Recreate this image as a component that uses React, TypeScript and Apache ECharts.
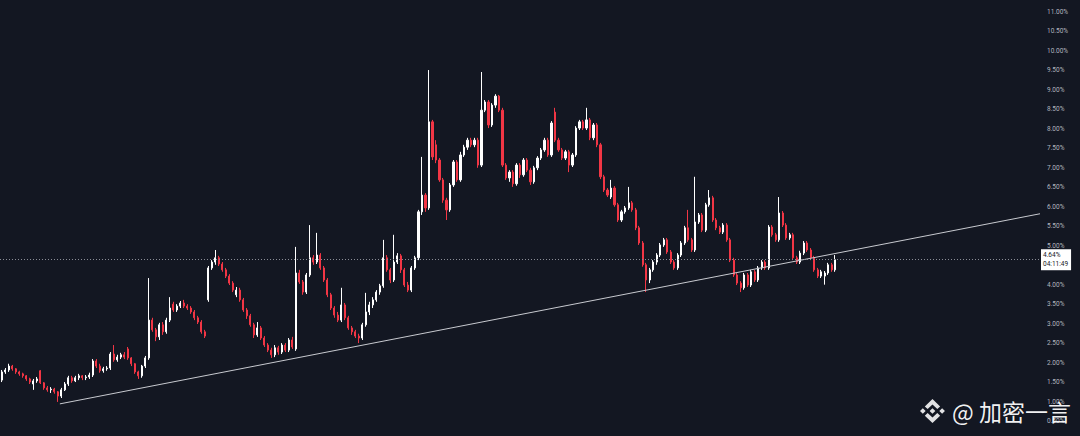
import React, { useEffect, useRef } from "react";
import * as echarts from "echarts";

// y-axis (percent) range and tick step
const yMin = 0.5;
const yMax = 11;
const yStep = 0.5;

// number of category slots on the time axis (data + empty space to the right)
const slotCount = 297;

// last price annotation
const lastPrice = 4.64;
const lastPriceTime = "04:11:49";

// trend line anchor points: [slot position, value %]
const trendStart = [17.1, 0.94];
const trendEnd = [297, 5.82];

// candles: [open, close, low, high] in percent
const candles = [
  [1.55,1.76,1.50,1.81],[1.76,1.81,1.71,1.86],[1.81,1.91,1.76,1.97],[1.91,1.84,1.79,1.94],
  [1.84,1.76,1.71,1.86],[1.76,1.71,1.66,1.79],[1.71,1.66,1.61,1.74],[1.66,1.58,1.53,1.68],
  [1.58,1.50,1.45,1.61],[1.45,1.53,1.30,1.58],[1.53,1.58,1.48,1.63],[1.79,1.48,1.45,1.81],
  [1.48,1.35,1.30,1.50],[1.35,1.30,1.25,1.40],[1.30,1.32,1.22,1.37],[1.32,1.25,1.20,1.35],
  [1.25,1.14,0.99,1.27],[1.14,1.30,1.09,1.35],[1.30,1.45,1.27,1.50],[1.45,1.61,1.40,1.66],
  [1.61,1.53,1.48,1.66],[1.53,1.61,1.50,1.66],[1.61,1.66,1.55,1.71],[1.66,1.61,1.55,1.68],
  [1.61,1.63,1.55,1.68],[1.63,1.68,1.58,1.74],[1.68,2.04,1.63,2.09],[2.04,1.91,1.86,2.09],
  [1.91,1.79,1.74,1.97],[1.79,1.84,1.74,1.89],[1.84,1.86,1.79,1.91],[1.86,2.22,1.81,2.27],
  [2.22,2.07,2.02,2.45],[2.07,2.14,2.02,2.20],[2.14,2.20,2.09,2.25],[2.20,2.14,2.09,2.27],
  [2.35,2.12,2.07,2.40],[2.12,1.97,1.91,2.14],[1.97,1.76,1.71,1.99],[1.76,1.66,1.58,1.79],
  [1.66,1.91,1.61,1.94],[1.91,2.12,1.86,2.17],[2.12,3.09,2.07,4.17],[3.09,2.84,2.79,3.15],
  [2.84,2.66,2.55,2.89],[2.66,2.97,2.58,3.02],[2.97,2.79,2.71,3.04],[2.79,3.09,2.74,3.15],
  [3.09,3.40,3.04,3.68],[3.50,3.35,3.30,3.56],[3.35,3.45,3.30,3.50],[3.45,3.53,3.40,3.58],
  [3.53,3.45,3.40,3.61],[3.45,3.40,3.35,3.50],[3.40,3.30,3.25,3.45],[3.30,3.15,3.09,3.35],
  [3.15,3.04,2.99,3.20],[3.04,2.79,2.74,3.09],[2.79,2.68,2.63,2.84],[3.61,4.43,3.56,4.48],
  [4.43,4.58,4.38,4.63],[4.58,4.69,4.51,4.89],[4.69,4.53,4.48,4.74],[4.53,4.38,4.33,4.58],
  [4.38,4.22,4.17,4.43],[4.22,4.04,3.99,4.27],[4.04,3.86,3.81,4.09],[3.74,3.86,3.68,3.94],
  [3.86,3.61,3.56,3.92],[3.61,3.35,3.30,3.66],[3.35,3.20,3.12,3.40],[3.20,2.97,2.92,3.25],
  [2.97,2.71,2.63,3.02],[2.71,2.89,2.66,3.04],[2.89,2.63,2.58,2.94],[2.63,2.45,2.40,2.68],
  [2.45,2.32,2.27,2.50],[2.32,2.20,2.12,2.38],[2.20,2.38,2.14,2.45],[2.38,2.27,2.20,2.43],
  [2.27,2.45,2.22,2.50],[2.45,2.32,2.27,2.50],[2.32,2.58,2.27,2.63],[2.58,2.40,2.35,2.66],
  [2.35,4.30,2.30,4.97],[4.30,4.07,4.02,4.38],[4.07,3.81,3.74,4.12],[3.81,4.25,3.76,4.30],
  [4.25,4.69,4.20,5.53],[4.69,4.58,4.51,4.76],[4.58,4.76,4.53,5.33],[4.76,4.43,4.38,4.81],
  [4.43,4.12,4.07,4.48],[4.12,3.74,3.68,4.17],[3.74,3.40,3.35,3.79],[3.40,3.22,3.15,3.45],
  [3.22,3.09,3.04,3.30],[3.09,3.48,3.04,3.92],[3.48,3.15,3.09,3.53],[3.15,2.89,2.84,3.20],
  [2.89,2.79,2.71,2.94],[2.79,2.68,2.63,2.84],[2.68,2.63,2.50,2.74],[2.63,2.97,2.58,3.02],
  [2.97,3.30,2.92,3.79],[3.30,3.48,3.22,3.56],[3.48,3.61,3.40,3.68],[3.61,3.81,3.56,3.86],
  [3.81,3.97,3.74,4.02],[3.97,4.69,3.92,5.15],[4.69,4.38,4.33,4.76],[4.38,4.12,4.04,4.43],
  [4.12,4.58,4.07,5.28],[4.58,4.74,4.53,4.81],[4.74,4.38,4.30,4.79],[4.38,3.99,3.94,4.43],
  [3.99,3.86,3.81,4.07],[3.86,4.43,3.81,4.48],[4.43,4.69,4.38,4.74],[4.69,5.87,4.63,5.92],
  [5.87,6.30,5.79,7.28],[6.30,5.97,5.87,6.35],[5.97,8.18,5.92,9.51],[8.18,7.28,7.20,8.23],
  [7.59,7.20,7.12,7.71],[7.20,6.69,6.64,7.25],[6.69,6.17,6.10,6.74],[6.17,5.92,5.66,6.23],
  [5.92,6.56,5.87,6.61],[6.56,7.15,6.51,7.20],[7.15,6.69,6.64,7.20],[6.69,7.33,6.64,7.41],
  [7.33,7.53,7.28,7.59],[7.53,7.71,7.46,7.77],[7.71,7.59,7.53,7.77],[7.59,7.71,7.53,7.77],
  [7.71,7.07,7.00,7.77],[7.07,8.48,7.02,9.46],[8.48,8.69,8.43,8.74],[8.69,8.10,8.02,8.74],
  [8.10,8.61,8.05,8.66],[8.61,8.84,8.54,8.89],[8.84,8.48,8.43,8.87],[8.48,7.07,7.02,8.54],
  [7.07,6.74,6.69,7.12],[6.74,6.89,6.64,6.94],[6.89,6.59,6.51,6.94],[6.59,7.07,6.54,7.12],
  [7.07,6.82,6.74,7.12],[6.82,7.20,6.77,7.25],[7.20,6.94,6.89,7.25],[6.94,6.64,6.56,7.00],
  [6.64,7.00,6.59,7.05],[7.00,7.25,6.94,7.30],[7.25,7.46,7.20,7.51],[7.46,7.71,7.41,7.77],
  [7.71,7.33,7.28,7.77],[7.33,8.15,7.28,8.20],[8.43,7.71,7.66,8.54],[7.71,7.46,7.41,7.77],
  [7.46,7.25,7.20,7.51],[7.25,7.41,7.20,7.46],[7.41,7.07,6.89,7.46],[7.07,7.33,7.02,7.38],
  [7.33,8.02,7.28,8.07],[8.02,8.18,7.97,8.23],[8.18,8.02,7.97,8.23],[8.02,8.23,7.97,8.54],
  [8.23,7.77,7.71,8.28],[7.77,8.10,7.71,8.15],[8.10,7.59,7.53,8.15],[7.59,6.77,6.71,7.64],
  [6.77,6.43,6.38,6.82],[6.43,6.30,6.25,6.48],[6.25,6.48,6.20,6.69],[6.48,6.05,6.00,6.53],
  [6.05,5.66,5.61,6.10],[5.66,5.87,5.61,5.92],[5.87,5.97,5.82,6.02],[5.97,6.10,5.92,6.51],
  [6.10,5.92,5.87,6.15],[5.92,5.46,5.40,5.97],[5.46,5.07,5.02,5.51],[5.07,4.51,4.46,5.12],
  [4.51,4.12,3.81,4.56],[4.12,4.38,4.04,4.43],[4.38,4.58,4.33,4.63],[4.58,4.76,4.51,4.81],
  [4.76,5.02,4.71,5.07],[5.02,5.15,4.97,5.20],[5.15,4.84,4.79,5.20],[4.84,4.58,4.53,4.89],
  [4.58,4.43,4.38,4.63],[4.43,4.76,4.38,4.81],[4.76,5.07,4.71,5.12],[5.07,5.46,5.02,5.51],
  [5.46,5.15,5.10,5.92],[5.15,4.89,4.84,5.20],[4.89,5.61,4.84,6.77],[5.61,5.79,5.56,5.84],
  [5.79,5.40,5.35,5.84],[5.40,6.05,5.35,6.10],[6.05,6.23,6.00,6.43],[6.23,5.66,5.61,6.28],
  [5.66,5.46,5.40,5.71],[5.46,5.35,5.30,5.51],[5.35,5.53,5.30,5.58],[5.53,5.15,5.10,5.58],
  [5.15,4.63,4.58,5.20],[4.63,4.25,4.20,4.69],[4.25,4.04,3.99,4.30],[4.04,3.92,3.81,4.09],
  [3.92,4.25,3.87,4.30],[4.25,3.99,3.94,4.30],[3.99,4.33,3.94,4.38],[4.33,4.12,4.07,4.38],
  [4.12,4.43,4.07,4.48],[4.43,4.58,4.38,4.63],[4.58,4.43,4.38,4.63],[4.43,5.48,4.38,5.53],
  [5.48,5.28,5.23,5.53],[5.28,5.15,5.10,5.33],[5.15,5.84,5.10,6.25],[5.84,5.53,5.48,5.89],
  [5.53,5.20,5.15,5.58],[5.20,5.28,5.15,5.33],[5.28,4.69,4.63,5.33],[4.69,4.58,4.53,4.74],
  [4.58,4.81,4.53,4.87],[4.81,5.07,4.76,5.12],[5.07,4.89,4.84,5.12],[4.89,4.69,4.63,4.94],
  [4.69,4.38,4.33,4.74],[4.38,4.22,4.17,4.43],[4.22,4.33,4.17,4.38],[4.22,4.30,4.00,4.35],
  [4.30,4.51,4.25,4.56],[4.51,4.38,4.33,4.56],[4.38,4.64,4.33,4.76],
];

const categories = Array.from({ length: slotCount }, (_, i) => String(i + 1));

const BINANCE_D =
  "M38.73 53.2 L63.3 28.64 L87.89 53.23 L102.19 38.93 L63.3 0 L24.43 38.88 Z " +
  "M0 63.31 L14.3 49 L28.6 63.31 L14.3 77.61 Z " +
  "M38.73 73.41 L63.3 98 L87.89 73.41 L102.2 87.7 L63.3 126.61 L24.42 87.74 Z " +
  "M98 63.31 L112.3 49 L126.6 63.3 L112.3 77.61 Z " +
  "M77.83 63.3 L63.3 48.76 L48.78 63.27 L63.3 77.81 Z";

let registered = false;
function ensureShape() {
  if (registered) return;
  echarts.graphic.registerShape("binanceLogo", echarts.graphic.extendPath(BINANCE_D, {}) as any);
  registered = true;
}

export default function App() {
  const ref = useRef<HTMLDivElement>(null);

  useEffect(() => {
    if (!ref.current) return;
    ensureShape();
    document.body.style.margin = "0";
    document.body.style.background = "#131722";
    const chart = echarts.init(ref.current, undefined, { renderer: "svg" });
    chart.setOption({
      animation: false,
      backgroundColor: "#131722",
      grid: { left: 0, right: 40, top: 12, bottom: 15 },
      xAxis: [
        { type: "category", data: categories, show: false, boundaryGap: true },
        { type: "value", min: 0, max: slotCount, show: false },
      ],
      yAxis: {
        type: "value",
        position: "right",
        min: yMin,
        max: yMax,
        interval: yStep,
        axisLine: { show: false },
        axisTick: { show: false },
        splitLine: { show: false },
        axisLabel: {
          color: "#b2b5be",
          fontSize: 6.5,
          fontFamily: "Roboto, sans-serif",
          margin: 7,
          formatter: (v: number) => v.toFixed(2) + "%",
        },
      },
      series: [
        {
          type: "candlestick",
          data: candles,
          barWidth: 1.6,
          itemStyle: {
            color: "#ffffff",
            color0: "#f23645",
            borderColor: "#ffffff",
            borderColor0: "#f23645",
            borderWidth: 1,
          },
          markLine: {
            silent: true,
            symbol: ["none", "none"],
            data: [{ yAxis: lastPrice }],
            lineStyle: { color: "#8a8d96", type: [1, 2], width: 1 },
            label: {
              position: "end",
              distance: 1,
              formatter: () => lastPrice.toFixed(2) + "%\n" + lastPriceTime,
              backgroundColor: "#ffffff",
              color: "#131722",
              fontSize: 6.5,
              lineHeight: 8.5,
              fontFamily: "Roboto, sans-serif",
              padding: [2, 3, 2, 2],
              align: "left",
            },
          },
        },
        {
          type: "line",
          xAxisIndex: 1,
          data: [trendStart, trendEnd],
          symbol: "none",
          silent: true,
          lineStyle: { color: "#c8cad0", width: 1 },
        },
      ],
      graphic: [
        {
          type: "binanceLogo",
          x: 920,
          y: 399,
          scaleX: 0.197,
          scaleY: 0.19,
          z: 100,
          style: { fill: "rgba(255,255,255,0.88)" },
        },
        {
          type: "text",
          x: 952,
          y: 411,
          z: 100,
          style: {
            text: "@ 加密一言",
            fill: "rgba(255,255,255,0.95)",
            fontSize: 23,
            fontFamily: '"Noto Sans CJK SC", sans-serif',
            verticalAlign: "middle",
          },
        },
      ],
    });
    return () => chart.dispose();
  }, []);

  return (
    <div
      ref={ref}
      style={{ position: "absolute", left: 0, top: 0, width: 1080, height: 436, background: "#131722" }}
    />
  );
}
